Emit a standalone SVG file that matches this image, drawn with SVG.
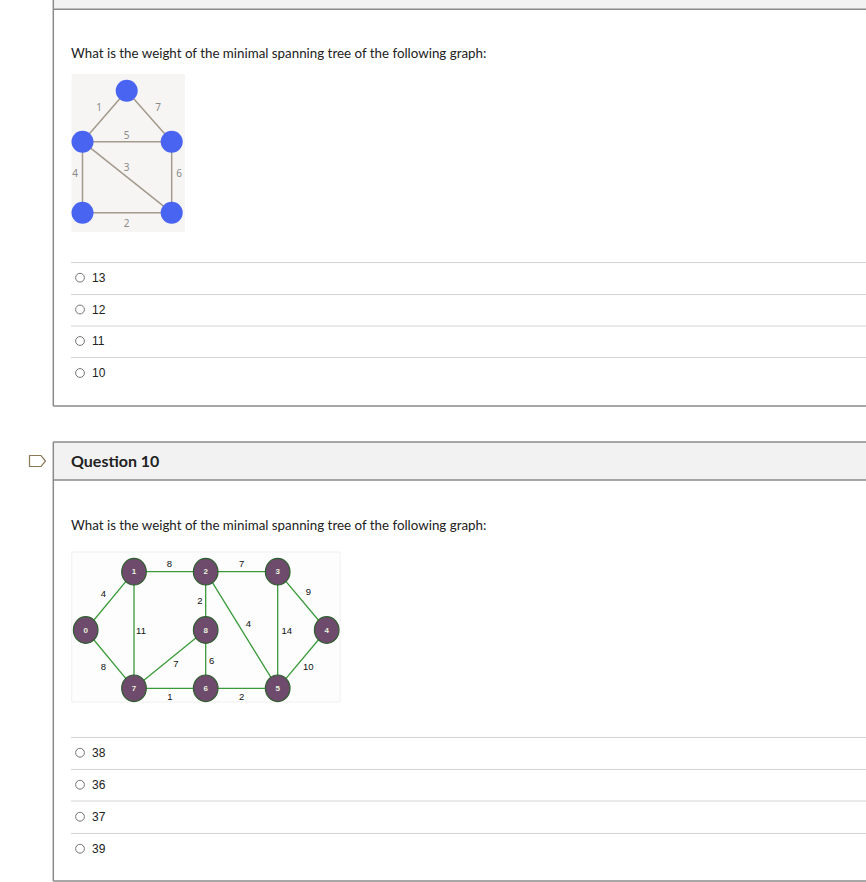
<svg xmlns="http://www.w3.org/2000/svg" width="866" height="882" viewBox="0 0 866 882">
<style>
.q{font-family:Lato,"Liberation Sans",sans-serif;font-size:13.35px;fill:#222}
.h{font-family:Lato,"Liberation Sans",sans-serif;font-size:16px;font-weight:bold;fill:#222}
.opt{font-family:"Liberation Sans",Arial,sans-serif;font-size:12px;fill:#222}
.radio{fill:#fff;stroke:#777;stroke-width:1}
.sep{stroke:#d4d4d4;stroke-width:1}
.border{stroke:#8a8a8a;stroke-width:1.5;fill:none}
.e1{stroke:#a39a8d;stroke-width:1.5}
.n1{fill:#4a64f2}
.l1{font-family:"Noto Sans","Liberation Sans",sans-serif;font-size:10px;fill:#8a8a8a;text-anchor:middle;dominant-baseline:central}
.e2{stroke:#3a9a3a;stroke-width:1.3}
.n2{fill:#6e4a6c;stroke:#2f5f2f;stroke-width:1.2}
.nl{font-family:"Liberation Sans",Arial,sans-serif;font-size:8px;font-weight:bold;fill:#e8f3df;text-anchor:middle;dominant-baseline:central}
.l2{font-family:"Liberation Sans",Arial,sans-serif;font-size:9.5px;fill:#111;text-anchor:middle;dominant-baseline:central}
</style>

<!-- Question box 1 -->
<g id="box1">
<rect x="53" y="0" width="813" height="9.3" fill="#f2f2f2"/>
<line class="border" x1="53.3" y1="9.3" x2="866" y2="9.3"/>
<line class="border" x1="53.3" y1="0" x2="53.3" y2="406"/>
<line class="border" x1="53.3" y1="406" x2="866" y2="406"/>
<text class="q" x="71" y="58">What is the weight of the minimal spanning tree of the following graph:</text>
</g>

<!-- Graph 1 -->
<g id="graph1">
<rect x="71.5" y="74" width="113.5" height="158" fill="#f6f5f3"/>
<g id="g1-edges">
<line class="e1" x1="126.7" y1="90.7" x2="82.5" y2="141.7"/>
<line class="e1" x1="126.7" y1="90.7" x2="171.7" y2="141.7"/>
<line class="e1" x1="82.5" y1="141.7" x2="171.7" y2="141.7"/>
<line class="e1" x1="82.5" y1="141.7" x2="171.7" y2="212.7"/>
<line class="e1" x1="82.5" y1="141.7" x2="82.5" y2="212.7"/>
<line class="e1" x1="171.7" y1="141.7" x2="171.7" y2="212.7"/>
<line class="e1" x1="82.5" y1="212.7" x2="171.7" y2="212.7"/>
</g>
<g id="g1-labels">
<text class="l1" x="99" y="107">1</text>
<text class="l1" x="158" y="107">7</text>
<text class="l1" x="126.7" y="135">5</text>
<text class="l1" x="126.7" y="167">3</text>
<text class="l1" x="75" y="173">4</text>
<text class="l1" x="179" y="173">6</text>
<text class="l1" x="126.7" y="223">2</text>
</g>
<g id="g1-nA"><circle class="n1" cx="126.7" cy="90.7" r="11"/></g>
<g id="g1-nB"><circle class="n1" cx="82.5" cy="141.7" r="11"/></g>
<g id="g1-nC"><circle class="n1" cx="171.7" cy="141.7" r="11"/></g>
<g id="g1-nD"><circle class="n1" cx="82.5" cy="212.7" r="11"/></g>
<g id="g1-nE"><circle class="n1" cx="171.7" cy="212.7" r="11"/></g>
</g>

<!-- Options 1 -->
<g id="options1">
<line class="sep" x1="71" y1="262.5" x2="866" y2="262.5"/>
<line class="sep" x1="71" y1="294.5" x2="866" y2="294.5"/>
<line class="sep" x1="71" y1="326" x2="866" y2="326"/>
<line class="sep" x1="71" y1="357.5" x2="866" y2="357.5"/>
<circle class="radio" cx="80" cy="277.7" r="4.4"/>
<text class="opt" x="92" y="282">13</text>
<circle class="radio" cx="80" cy="309.5" r="4.4"/>
<text class="opt" x="92" y="313.8">12</text>
<circle class="radio" cx="80" cy="341" r="4.4"/>
<text class="opt" x="92" y="345.3">11</text>
<circle class="radio" cx="80" cy="373" r="4.4"/>
<text class="opt" x="92" y="377.3">10</text>
</g>

<!-- Question box 2 -->
<g id="box2">
<path d="M29.5,455.5 H41 L45.5,461 L41,466.5 H29.5 Z" fill="none" stroke="#8b7a5a" stroke-width="1.2"/>
<rect x="53.3" y="442" width="813" height="38" fill="#f2f2f2"/>
<line class="border" x1="53.3" y1="442" x2="866" y2="442"/>
<line class="border" x1="53.3" y1="480" x2="866" y2="480"/>
<line class="border" x1="53.3" y1="442" x2="53.3" y2="881"/>
<line class="border" x1="53.3" y1="881" x2="866" y2="881"/>
<text class="h" x="71" y="467">Question 10</text>
<text class="q" x="71" y="530">What is the weight of the minimal spanning tree of the following graph:</text>
</g>

<!-- Graph 2 -->
<g id="graph2">
<rect x="71.7" y="552" width="268.3" height="150" fill="#fdfdfd" stroke="#f0f0f0" stroke-width="1"/>
<g id="g2-edges">
<line class="e2" x1="85.7" y1="630" x2="134" y2="571.7"/>
<line class="e2" x1="85.7" y1="630" x2="134" y2="688.3"/>
<line class="e2" x1="134" y1="571.7" x2="205.7" y2="571.7"/>
<line class="e2" x1="134" y1="571.7" x2="134" y2="688.3"/>
<line class="e2" x1="205.7" y1="571.7" x2="277.7" y2="571.7"/>
<line class="e2" x1="205.7" y1="571.7" x2="205.7" y2="630"/>
<line class="e2" x1="205.7" y1="571.7" x2="277.7" y2="688.3"/>
<line class="e2" x1="277.7" y1="571.7" x2="326.7" y2="630"/>
<line class="e2" x1="277.7" y1="571.7" x2="277.7" y2="688.3"/>
<line class="e2" x1="326.7" y1="630" x2="277.7" y2="688.3"/>
<line class="e2" x1="205.7" y1="630" x2="134" y2="688.3"/>
<line class="e2" x1="205.7" y1="630" x2="205.7" y2="688.3"/>
<line class="e2" x1="134" y1="688.3" x2="205.7" y2="688.3"/>
<line class="e2" x1="205.7" y1="688.3" x2="277.7" y2="688.3"/>
</g>
<g id="g2-labels">
<text class="l2" x="103.3" y="593.3">4</text>
<text class="l2" x="103.3" y="666.7">8</text>
<text class="l2" x="169.3" y="563.3">8</text>
<text class="l2" x="241.7" y="563.3">7</text>
<text class="l2" x="200" y="600">2</text>
<text class="l2" x="141" y="630">11</text>
<text class="l2" x="248.3" y="623.3">4</text>
<text class="l2" x="308.3" y="591.7">9</text>
<text class="l2" x="286.7" y="630">14</text>
<text class="l2" x="308.3" y="666.7">10</text>
<text class="l2" x="176" y="663.3">7</text>
<text class="l2" x="211.7" y="660">6</text>
<text class="l2" x="170" y="696.7">1</text>
<text class="l2" x="241.7" y="696.7">2</text>
</g>
<g id="n0"><ellipse class="n2" cx="85.7" cy="630" rx="12.3" ry="13.3"/><text class="nl" x="85.7" y="630">0</text></g>
<g id="n1"><ellipse class="n2" cx="134" cy="571.7" rx="12.3" ry="13.3"/><text class="nl" x="134" y="571.7">1</text></g>
<g id="n2"><ellipse class="n2" cx="205.7" cy="571.7" rx="12.3" ry="13.3"/><text class="nl" x="205.7" y="571.7">2</text></g>
<g id="n3"><ellipse class="n2" cx="277.7" cy="571.7" rx="12.3" ry="13.3"/><text class="nl" x="277.7" y="571.7">3</text></g>
<g id="n4"><ellipse class="n2" cx="326.7" cy="630" rx="12.3" ry="13.3"/><text class="nl" x="326.7" y="630">4</text></g>
<g id="n8"><ellipse class="n2" cx="205.7" cy="630" rx="12.3" ry="13.3"/><text class="nl" x="205.7" y="630">8</text></g>
<g id="n7"><ellipse class="n2" cx="134" cy="688.3" rx="12.3" ry="13.3"/><text class="nl" x="134" y="688.3">7</text></g>
<g id="n6"><ellipse class="n2" cx="205.7" cy="688.3" rx="12.3" ry="13.3"/><text class="nl" x="205.7" y="688.3">6</text></g>
<g id="n5"><ellipse class="n2" cx="277.7" cy="688.3" rx="12.3" ry="13.3"/><text class="nl" x="277.7" y="688.3">5</text></g>
</g>

<!-- Options 2 -->
<g id="options2">
<line class="sep" x1="71" y1="737.5" x2="866" y2="737.5"/>
<line class="sep" x1="71" y1="769.5" x2="866" y2="769.5"/>
<line class="sep" x1="71" y1="801" x2="866" y2="801"/>
<line class="sep" x1="71" y1="833.5" x2="866" y2="833.5"/>
<circle class="radio" cx="80" cy="752.7" r="4.4"/>
<text class="opt" x="92" y="757">38</text>
<circle class="radio" cx="80" cy="784.7" r="4.4"/>
<text class="opt" x="92" y="789">36</text>
<circle class="radio" cx="80" cy="816.7" r="4.4"/>
<text class="opt" x="92" y="821">37</text>
<circle class="radio" cx="80" cy="848.7" r="4.4"/>
<text class="opt" x="92" y="853">39</text>
</g>
</svg>
